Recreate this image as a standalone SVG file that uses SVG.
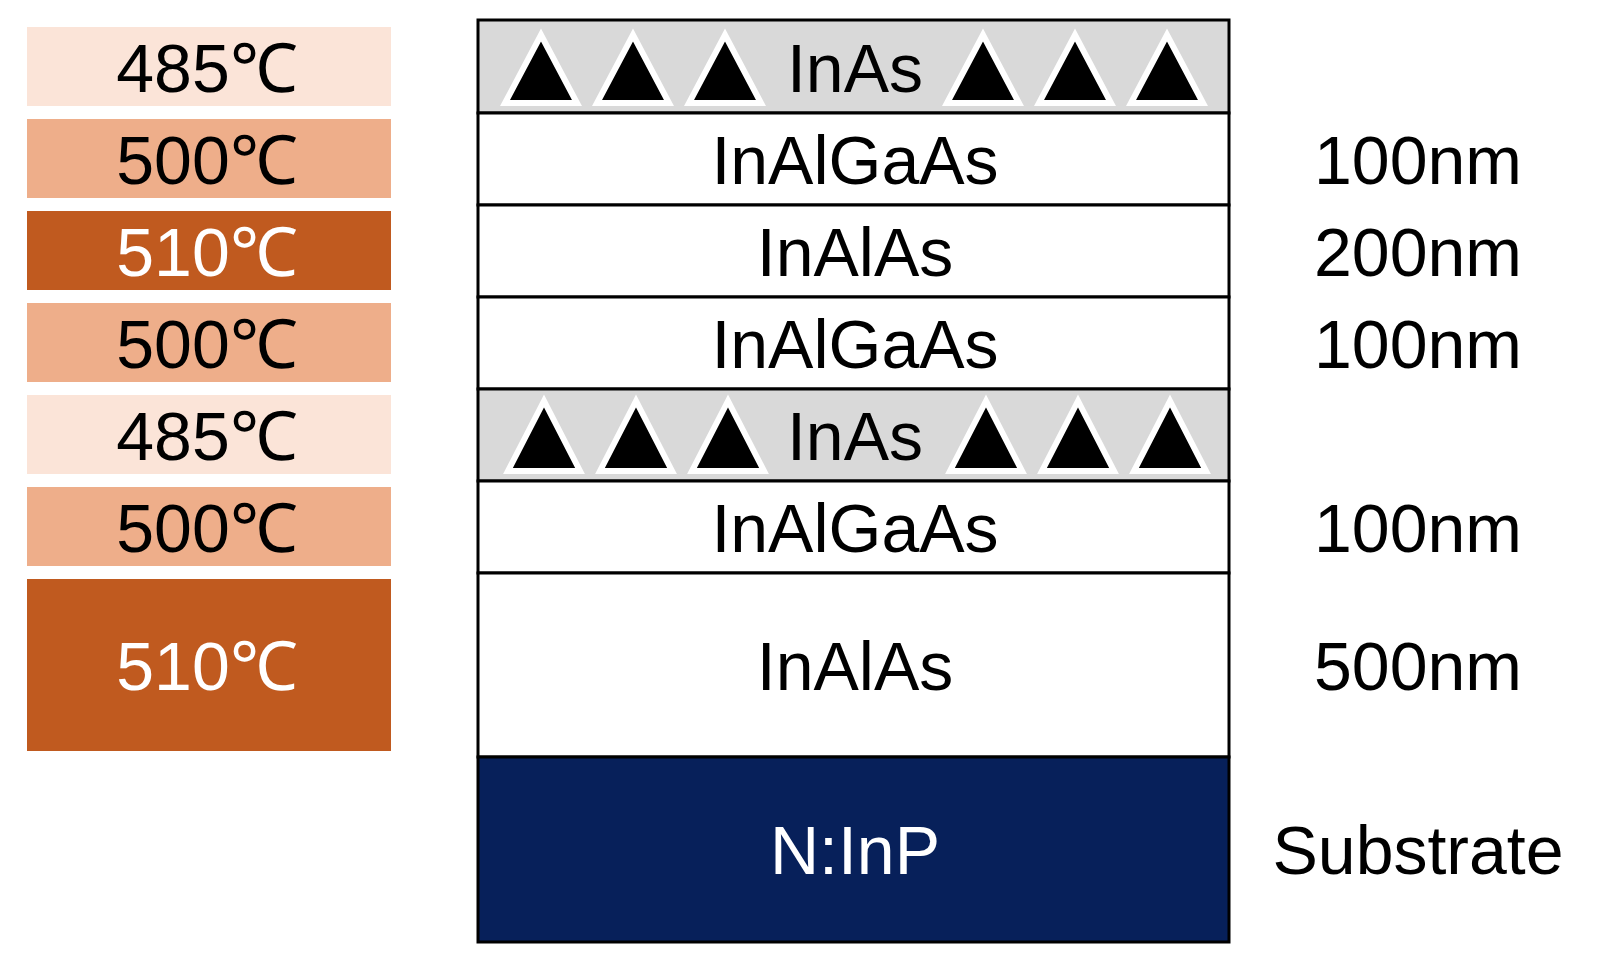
<svg xmlns="http://www.w3.org/2000/svg" width="1600" height="975" viewBox="0 0 1600 975">
<style>
text{font-family:"Liberation Sans",Arial,sans-serif;font-size:68px;text-anchor:middle;dominant-baseline:central}
.w{fill:#fff}
.lay{fill:#fff;stroke:#000;stroke-width:3}
.qd{fill:#d9d9d9;stroke:#000;stroke-width:3}
.tri{fill:#000;stroke:#fff;stroke-width:6;stroke-linejoin:miter}
.c1{fill:#fbe4d8}.c2{fill:#eeae8a}.c3{fill:#c05a1f}
</style>
<rect width="1600" height="975" fill="#fff"/>
<g id="temps">
<g id="t1"><rect class="c1" x="27" y="27" width="364" height="79"/><text x="207" y="68">485℃</text></g>
<g id="t2"><rect class="c2" x="27" y="119" width="364" height="79"/><text x="207" y="160">500℃</text></g>
<g id="t3"><rect class="c3" x="27" y="211" width="364" height="79"/><text class="w" x="207" y="252">510℃</text></g>
<g id="t4"><rect class="c2" x="27" y="303" width="364" height="79"/><text x="207" y="344">500℃</text></g>
<g id="t5"><rect class="c1" x="27" y="395" width="364" height="79"/><text x="207" y="436">485℃</text></g>
<g id="t6"><rect class="c2" x="27" y="487" width="364" height="79"/><text x="207" y="528">500℃</text></g>
<g id="t7"><rect class="c3" x="27" y="579" width="364" height="172"/><text class="w" x="207" y="666">510℃</text></g>
</g>
<g id="stack">
<g id="l1"><rect class="qd" x="478" y="20" width="751" height="93"/>
<g class="tri"><polygon points="541,35 505,103 577,103"/><polygon points="633,35 597,103 669,103"/><polygon points="725,35 689,103 761,103"/><polygon points="983,35 947,103 1019,103"/><polygon points="1075,35 1039,103 1111,103"/><polygon points="1167,35 1131,103 1203,103"/></g>
<text x="855" y="68">InAs</text></g>
<g id="l2"><rect class="lay" x="478" y="113" width="751" height="92"/><text x="855" y="160">InAlGaAs</text></g>
<g id="l3"><rect class="lay" x="478" y="205" width="751" height="92"/><text x="855" y="252">InAlAs</text></g>
<g id="l4"><rect class="lay" x="478" y="297" width="751" height="92"/><text x="855" y="344">InAlGaAs</text></g>
<g id="l5"><rect class="qd" x="478" y="389" width="751" height="92"/>
<g class="tri"><polygon points="544,401 508,471 580,471"/><polygon points="636,401 600,471 672,471"/><polygon points="728,401 692,471 764,471"/><polygon points="986,401 950,471 1022,471"/><polygon points="1078,401 1042,471 1114,471"/><polygon points="1170,401 1134,471 1206,471"/></g>
<text x="855" y="436">InAs</text></g>
<g id="l6"><rect class="lay" x="478" y="481" width="751" height="92"/><text x="855" y="528">InAlGaAs</text></g>
<g id="l7"><rect class="lay" x="478" y="573" width="751" height="184"/><text x="855" y="666">InAlAs</text></g>
<g id="l8"><rect x="478" y="757" width="751" height="185" fill="#07205a" stroke="#000" stroke-width="3"/><text class="w" x="855" y="850">N:InP</text></g>
</g>
<g id="thick">
<text x="1418" y="160">100nm</text>
<text x="1418" y="252">200nm</text>
<text x="1418" y="344">100nm</text>
<text x="1418" y="528">100nm</text>
<text x="1418" y="666">500nm</text>
<text x="1418" y="850">Substrate</text>
</g>
<g id="connectors"/>
</svg>
